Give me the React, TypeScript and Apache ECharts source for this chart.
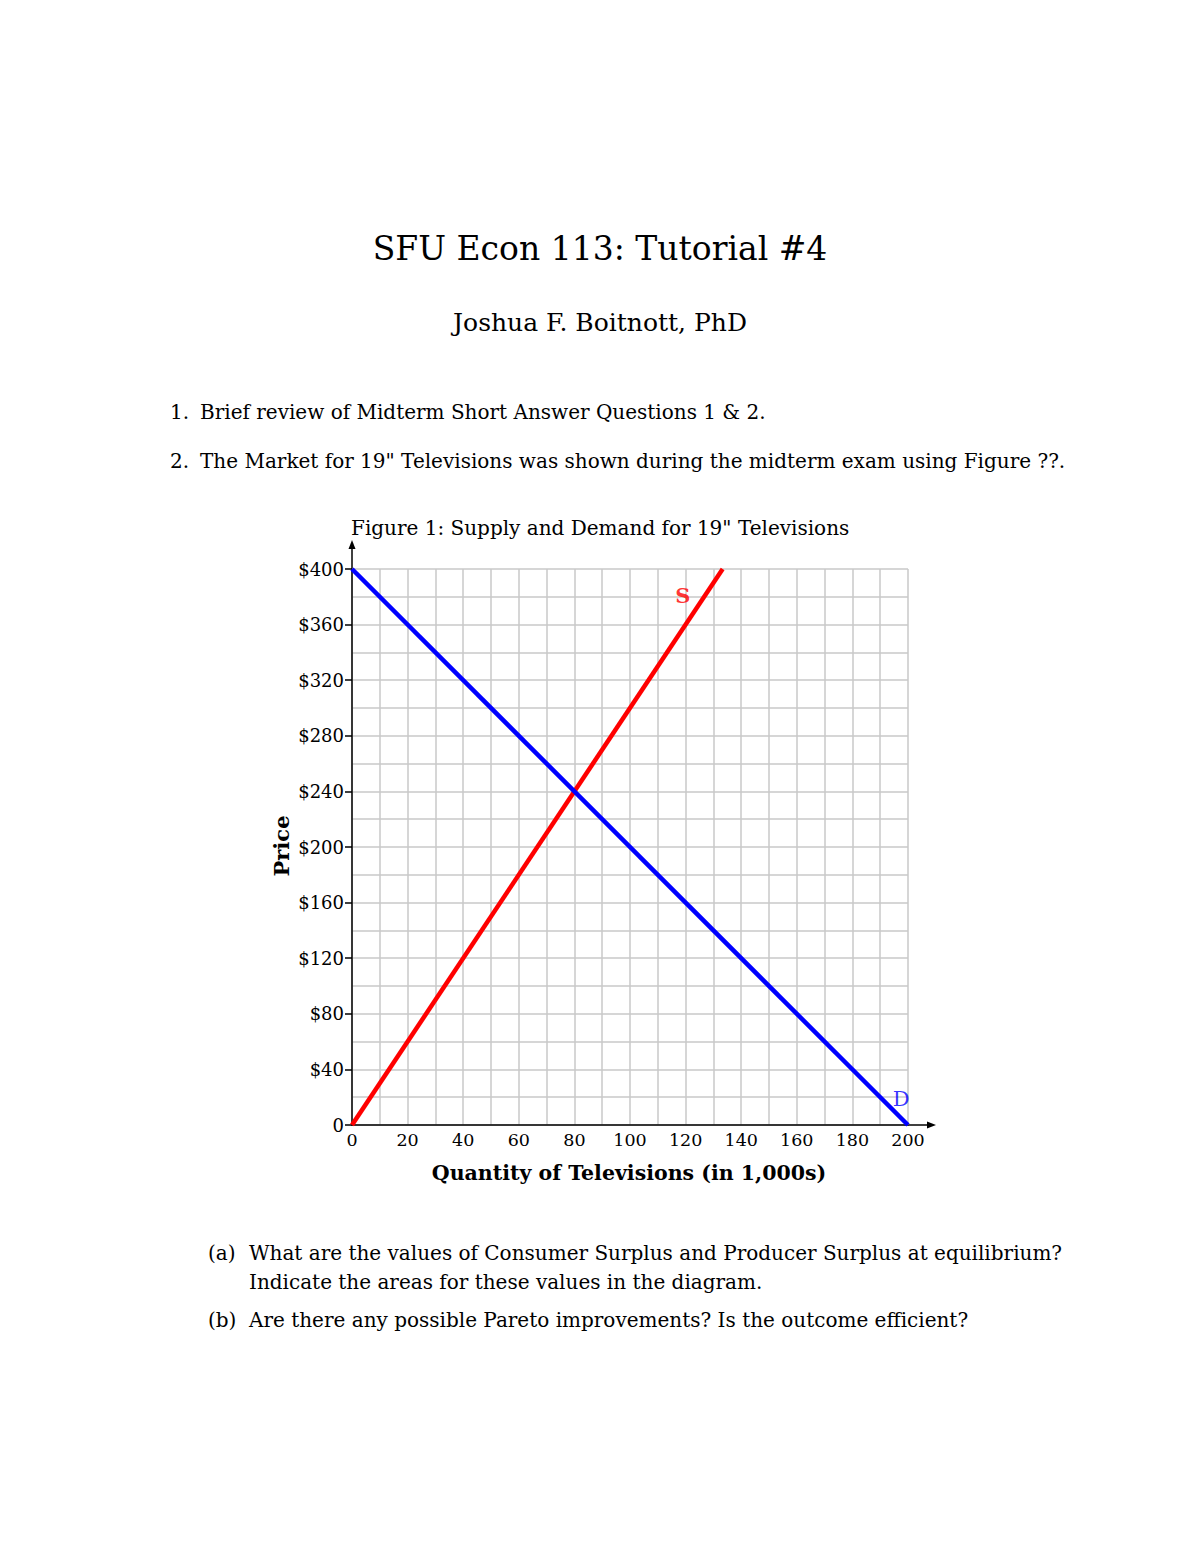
import React, { useEffect, useRef } from 'react';
import * as echarts from 'echarts';

const FONT = '"DejaVu Serif", "Liberation Serif", serif';

// Supply: P = 3Q, Demand: P = 400 - 2Q
const supplyQuantity = [0, 133.33];
const supplyPrice = [0, 400];
const demandQuantity = [0, 200];
const demandPrice = [400, 0];

const curveNames = ['S', 'D'];
const curveLabelQuantity = [119, 197.5];
const curveLabelPrice = [381, 19];
const curveColors = ['#ff0000', '#0000ff'];

const xMin = 0;
const xMax = 200;
const xLabelStep = 20;
const yMin = 0;
const yMax = 400;
const yLabelStep = 40;

export default function App() {
  const ref = useRef<HTMLDivElement>(null);
  useEffect(() => {
    const chart = echarts.init(ref.current!, null, { renderer: 'svg' });
    const text = (t: string, x: number, y: number, size: number, extra: any = {}) => ({
      type: 'text',
      x,
      y,
      silent: true,
      style: {
        text: t,
        fill: '#000',
        font: `${extra.weight || 'normal'} ${size}px ${FONT}`,
        textAlign: extra.align || 'left',
        textVerticalAlign: 'middle',
      },
      rotation: extra.rotation || 0,
    });
    chart.setOption({
      animation: false,
      backgroundColor: '#ffffff',
      textStyle: { fontFamily: FONT, color: '#000' },
      grid: { left: 352, top: 569, right: 292, bottom: 428, containLabel: false },
      xAxis: {
        type: 'value',
        min: xMin,
        max: xMax,
        interval: xLabelStep,
        axisLine: { show: true, onZero: false, lineStyle: { color: '#000', width: 1.5 } },
        axisTick: { show: false },
        axisLabel: { color: '#000', fontSize: 17.5, fontFamily: FONT, margin: 6 },
        splitLine: { show: true, lineStyle: { color: '#c8c8c8', width: 1.5 } },
        minorTick: { show: false, splitNumber: 2 },
        minorSplitLine: { show: true, lineStyle: { color: '#c8c8c8', width: 1.5 } },
      },
      yAxis: {
        type: 'value',
        min: yMin,
        max: yMax,
        interval: yLabelStep,
        axisLine: { show: true, onZero: false, lineStyle: { color: '#000', width: 1.5 } },
        axisTick: { show: true, length: 7, lineStyle: { color: '#000', width: 1.5 } },
        axisLabel: {
          color: '#000',
          fontSize: 18,
          fontFamily: FONT,
          margin: 8,
          formatter: (v: number) => (v === 0 ? '0' : '$' + v),
        },
        splitLine: { show: true, lineStyle: { color: '#c8c8c8', width: 1.5 } },
        minorTick: { show: false, splitNumber: 2 },
        minorSplitLine: { show: true, lineStyle: { color: '#c8c8c8', width: 1.5 } },
      },
      series: [
        {
          type: 'line',
          name: 'Supply',
          data: supplyQuantity.map((q, i) => [q, supplyPrice[i]]),
          showSymbol: false,
          lineStyle: { color: curveColors[0], width: 4.5 },
          z: 3,
        },
        {
          type: 'line',
          name: 'Demand',
          data: demandQuantity.map((q, i) => [q, demandPrice[i]]),
          showSymbol: false,
          lineStyle: { color: curveColors[1], width: 4.5 },
          z: 4,
        },
        {
          type: 'scatter',
          symbolSize: 0,
          data: curveNames.map((n, i) => ({
            value: [curveLabelQuantity[i], curveLabelPrice[i]],
            name: n,
            label: {
              show: true,
              position: 'inside',
              formatter: n,
              color: curveColors[i],
              fontSize: 21,
              fontWeight: i === 0 ? 'bold' : 'normal',
              fontFamily: FONT,
            },
          })),
          z: 5,
        },
      ],
      graphic: [
        text('SFU Econ 113: Tutorial #4', 600, 248, 33, { align: 'center' }),
        text('Joshua F. Boitnott, PhD', 600, 322, 25, { align: 'center' }),
        text('1.', 170, 412, 20),
        text('Brief review of Midterm Short Answer Questions 1 & 2.', 200, 412, 20),
        text('2.', 170, 461, 20),
        text('The Market for 19" Televisions was shown during the midterm exam using Figure ??.', 200, 461, 20),
        text('Figure 1: Supply and Demand for 19" Televisions', 351, 528, 20),
        text('Price', 281, 846, 21, { weight: 'bold', align: 'center', rotation: Math.PI / 2 }),
        text('Quantity of Televisions (in 1,000s)', 629, 1173, 20.5, { weight: 'bold', align: 'center' }),
        text('(a)', 208, 1253, 20),
        text('What are the values of Consumer Surplus and Producer Surplus at equilibrium?', 249, 1253, 20),
        text('Indicate the areas for these values in the diagram.', 249, 1282, 20),
        text('(b)', 208, 1320, 20),
        text('Are there any possible Pareto improvements? Is the outcome efficient?', 249, 1320, 20),
        // axis extensions with arrows
        { type: 'line', silent: true, shape: { x1: 352, y1: 569, x2: 352, y2: 545 }, style: { stroke: '#000', lineWidth: 1.5 } },
        { type: 'polygon', silent: true, shape: { points: [[352, 540], [348.5, 549], [355.5, 549]] }, style: { fill: '#000' } },
        { type: 'line', silent: true, shape: { x1: 908, y1: 1125, x2: 930, y2: 1125 }, style: { stroke: '#000', lineWidth: 1.5 } },
        { type: 'polygon', silent: true, shape: { points: [[936, 1125], [927, 1121.5], [927, 1128.5]] }, style: { fill: '#000' } },
      ],
    });
    return () => chart.dispose();
  }, []);
  return (
    <div
      ref={ref}
      style={{ position: 'absolute', left: 0, top: 0, width: 1200, height: 1553, background: '#fff' }}
    />
  );
}
